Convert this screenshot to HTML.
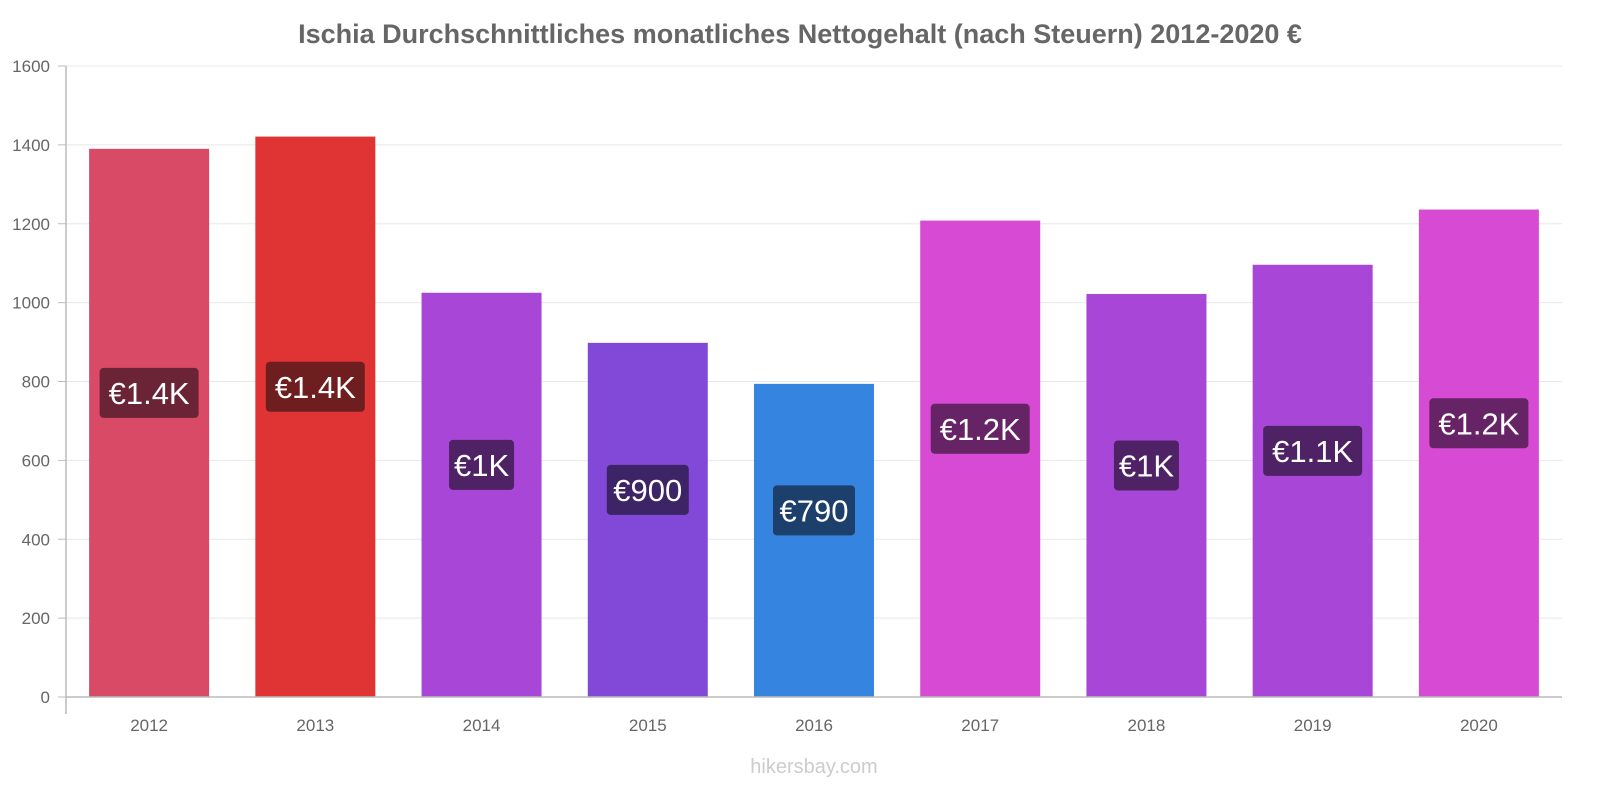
<!DOCTYPE html>
<html><head><meta charset="utf-8">
<style>
body{margin:0;background:#fff;font-family:"Liberation Sans",sans-serif;}
svg{display:block}
</style></head>
<body>
<svg id="chart" width="1600" height="800" xmlns="http://www.w3.org/2000/svg">
<text x="800" y="43" text-anchor="middle" font-size="27" font-weight="bold" fill="#666">Ischia Durchschnittliches monatliches Nettogehalt (nach Steuern) 2012-2020 €</text>
<g id="grid"></g>
<g id="bars"></g>
<g id="axes"></g>
<text x="814" y="773" text-anchor="middle" font-size="20" fill="#ccc">hikersbay.com</text>
</svg>
<script>
const categories = ["2012","2013","2014","2015","2016","2017","2018","2019","2020"];
const values = [1390,1421,1025,898,794,1208,1022,1096,1236];
const valueLabels = ["€1.4K","€1.4K","€1K","€900","€790","€1.2K","€1K","€1.1K","€1.2K"];
const yTicks = [0,200,400,600,800,1000,1200,1400,1600];
const barColors = ["#d84a66","#e03434","#a846d8","#8249d8","#3584e0","#d64ad4","#a846d8","#a846d8","#d64ad4"];
const labelColors = ["#6b2336","#6e1e1e","#4f2266","#3d2466","#1d3f6b","#662366","#4f2266","#4f2266","#662366"];

const NS="http://www.w3.org/2000/svg";
const x0=66,x1=1562,yTop=66,yBot=697,yMax=1600;
const band=(x1-x0)/categories.length, barW=120;
const y=v=>yBot-(v/yMax)*(yBot-yTop);
const xc=i=>x0+band*(i+0.5);
function mk(tag,attrs,parent){const e=document.createElementNS(NS,tag);for(const k in attrs)e.setAttribute(k,attrs[k]);parent.appendChild(e);return e;}
const grid=document.getElementById('grid'),bars=document.getElementById('bars'),axes=document.getElementById('axes');
yTicks.forEach(t=>{
  const l=mk('line',{x1:x0,x2:x1,y1:y(t),y2:y(t),stroke:'#e8e8e8','stroke-width':1},grid);
  
  
  const tx=mk('text',{x:50,y:y(t)+6,'text-anchor':'end','font-size':17,fill:'#666'},axes);
  tx.textContent=t;
  
  
  const tk=mk('line',{x1:58,x2:x0,y1:y(t),y2:y(t),stroke:'#bbb'},axes);
  
  
});
const ya=mk('line',{x1:x0,x2:x0,y1:yTop,y2:yBot+17,stroke:'#bbb','stroke-width':1.5},axes);


categories.forEach((c,i)=>{
  const r=mk('rect',{x:xc(i)-barW/2,y:y(values[i]),width:barW,height:yBot-y(values[i]),fill:barColors[i]},bars);
  
  
  const cy=(y(values[i])+yBot)/2-30;
  const lbl=valueLabels[i];
  const w=lbl.length*17+14;
  const bg=mk('rect',{x:xc(i)-w/2,y:cy-25,width:w,height:50,rx:4,fill:labelColors[i]},bars);
  
  
  const t=mk('text',{x:xc(i),y:cy+11,'text-anchor':'middle','font-size':31,fill:'#fff'},bars);
  t.textContent=lbl;
  
  
  const xt=mk('text',{x:xc(i),y:731,'text-anchor':'middle','font-size':17,fill:'#666'},axes);
  xt.textContent=c;
  
  
});
const xa=mk('line',{x1:x0,x2:x1,y1:yBot,y2:yBot,stroke:'#bbb','stroke-width':1.5},axes);


</script>
</body></html>
